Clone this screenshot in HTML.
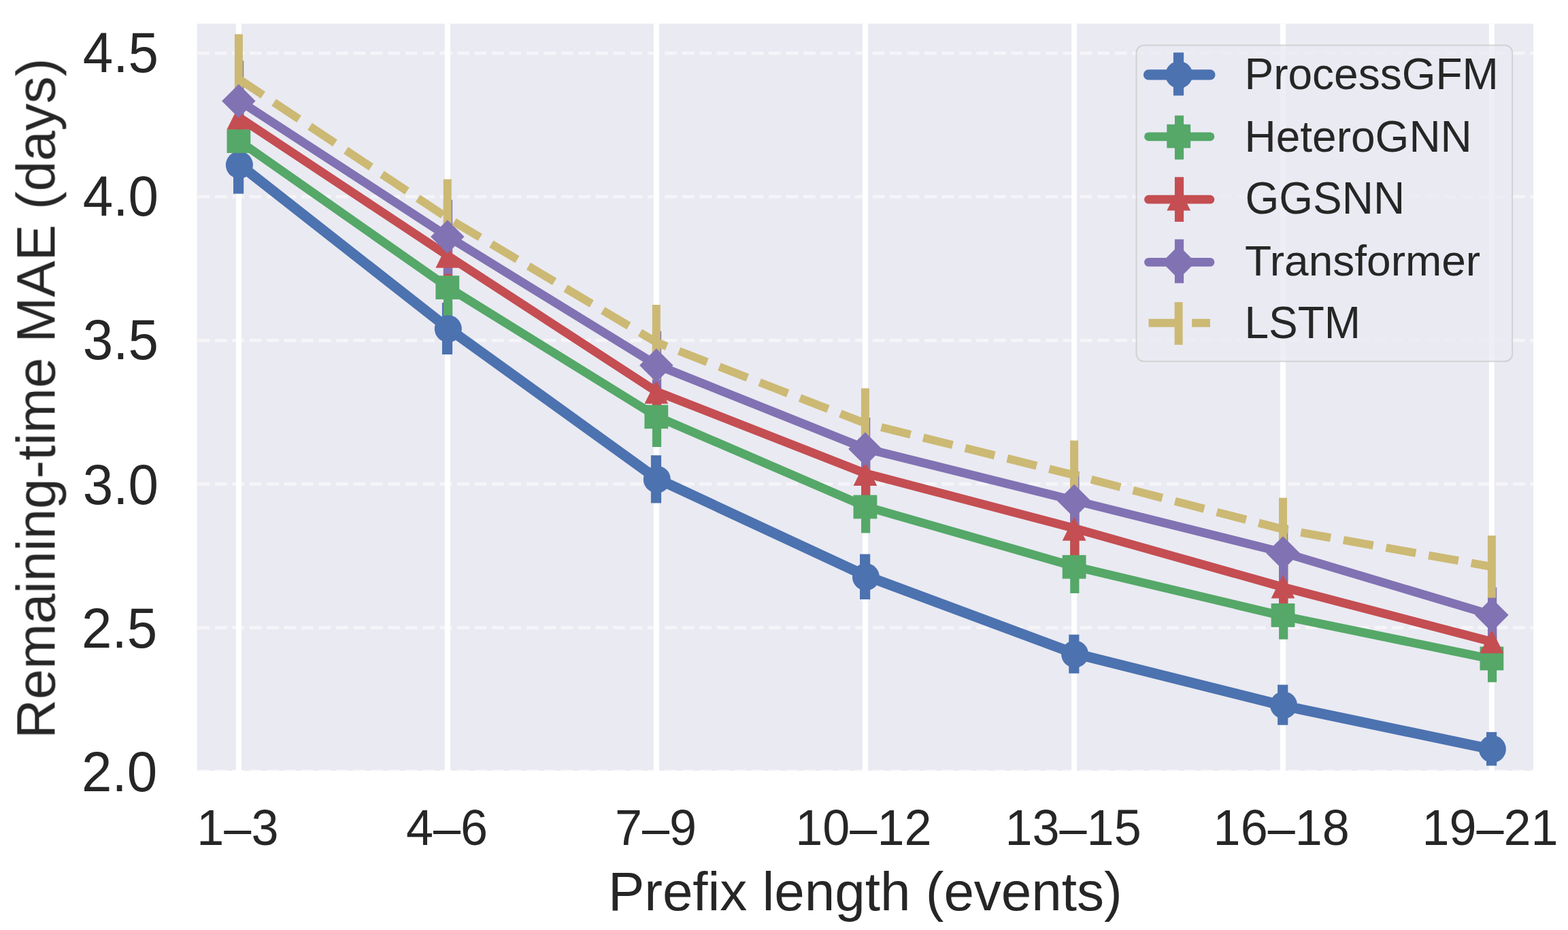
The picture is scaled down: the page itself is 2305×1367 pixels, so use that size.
<!DOCTYPE html>
<html lang="en"><head><meta charset="utf-8"><title>Remaining-time MAE by prefix length</title>
<style>html,body{margin:0;padding:0;background:#fff;}body{width:2305px;height:1367px;overflow:hidden;}svg{display:block;}text{font-family:"Liberation Sans",sans-serif;fill:#262626;}</style>
</head><body>
<svg width="2305" height="1367" viewBox="0 0 2305 1367">
<defs><filter id="soft" x="0" y="0" width="2305" height="1367" filterUnits="userSpaceOnUse" color-interpolation-filters="sRGB"><feGaussianBlur stdDeviation="0.6"/></filter><clipPath id="ax"><rect x="289.6" y="34.8" width="1964.4" height="1098.2"/></clipPath></defs>
<rect x="0" y="0" width="2305" height="1367" fill="#ffffff"/>
<g filter="url(#soft)">
<rect x="289.6" y="34.8" width="1964.4" height="1098.2" fill="#EAEAF2"/>
<g clip-path="url(#ax)">
<g stroke="#ffffff" stroke-width="8" fill="none">
<line x1="350.9" y1="34.8" x2="350.9" y2="1133"/>
<line x1="657.8" y1="34.8" x2="657.8" y2="1133"/>
<line x1="964.8" y1="34.8" x2="964.8" y2="1133"/>
<line x1="1271.9" y1="34.8" x2="1271.9" y2="1133"/>
<line x1="1579.1" y1="34.8" x2="1579.1" y2="1133"/>
<line x1="1886" y1="34.8" x2="1886" y2="1133"/>
<line x1="2192.9" y1="34.8" x2="2192.9" y2="1133"/>
</g>
<g stroke="#ffffff" stroke-opacity="0.52" stroke-width="4.8" stroke-dasharray="17.76 7.68" stroke-dashoffset="-0.9" fill="none">
<line x1="289.6" y1="78.1" x2="2254" y2="78.1"/>
<line x1="289.6" y1="289.2" x2="2254" y2="289.2"/>
<line x1="289.6" y1="500.4" x2="2254" y2="500.4"/>
<line x1="289.6" y1="711.4" x2="2254" y2="711.4"/>
<line x1="289.6" y1="922.6" x2="2254" y2="922.6"/>
<line x1="289.6" y1="1133.7" x2="2254" y2="1133.7"/>
</g>
<g stroke="#4C72B0" stroke-width="15.2" fill="none">
<line x1="350.6" y1="199.6" x2="350.6" y2="284.8"/>
<line x1="657.5" y1="444.9" x2="657.5" y2="521.1"/>
<line x1="964.5" y1="669.2" x2="964.5" y2="739.6"/>
<line x1="1271.6" y1="814.6" x2="1271.6" y2="881"/>
<line x1="1578.8" y1="932.8" x2="1578.8" y2="989.8"/>
<line x1="1885.7" y1="1006.5" x2="1885.7" y2="1065.7"/>
<line x1="2192.6" y1="1076.1" x2="2192.6" y2="1125.5"/>
</g>
<g stroke="#55A868" stroke-width="13.2" fill="none">
<line x1="351.6" y1="157.5" x2="351.6" y2="257.5"/>
<line x1="658.5" y1="374.4" x2="658.5" y2="470.8"/>
<line x1="965.5" y1="568.4" x2="965.5" y2="657"/>
<line x1="1272.6" y1="706.6" x2="1272.6" y2="783.6"/>
<line x1="1579.8" y1="794.6" x2="1579.8" y2="872"/>
<line x1="1886.7" y1="869.1" x2="1886.7" y2="939.7"/>
<line x1="2193.6" y1="933.1" x2="2193.6" y2="1002.7"/>
</g>
<g stroke="#C44E52" stroke-width="13.2" fill="none">
<line x1="351.6" y1="113.3" x2="351.6" y2="232.5"/>
<line x1="658.5" y1="324.3" x2="658.5" y2="428.3"/>
<line x1="965.5" y1="530.2" x2="965.5" y2="622.2"/>
<line x1="1272.6" y1="654.5" x2="1272.6" y2="738.5"/>
<line x1="1579.8" y1="737.8" x2="1579.8" y2="816.8"/>
<line x1="1886.7" y1="825.2" x2="1886.7" y2="899.2"/>
<line x1="2193.6" y1="908.8" x2="2193.6" y2="976.8"/>
</g>
<g stroke="#8172B3" stroke-width="13.2" fill="none">
<line x1="351.6" y1="89.2" x2="351.6" y2="207.8"/>
<line x1="658.5" y1="293.7" x2="658.5" y2="402.5"/>
<line x1="965.5" y1="486.7" x2="965.5" y2="587.5"/>
<line x1="1272.6" y1="614" x2="1272.6" y2="706"/>
<line x1="1579.8" y1="692.9" x2="1579.8" y2="779.9"/>
<line x1="1886.7" y1="771.9" x2="1886.7" y2="853.9"/>
<line x1="2193.6" y1="863.5" x2="2193.6" y2="944.7"/>
</g>
<g stroke="#CCB974" stroke-width="12" fill="none">
<line x1="350.9" y1="50.2" x2="350.9" y2="166"/>
<line x1="657.8" y1="263.4" x2="657.8" y2="365.3"/>
<line x1="964.8" y1="448" x2="964.8" y2="558.2"/>
<line x1="1271.9" y1="570.7" x2="1271.9" y2="672.2"/>
<line x1="1579.1" y1="647.5" x2="1579.1" y2="746.3"/>
<line x1="1886" y1="731.8" x2="1886" y2="821.8"/>
<line x1="2192.9" y1="787.2" x2="2192.9" y2="878.8"/>
</g>
<polyline points="350.9,241 657.8,481.8 964.8,703.2 1271.9,846 1579.1,960.3 1886,1037.1 2192.9,1101.4" fill="none" stroke="#4C72B0" stroke-width="15.2" stroke-linejoin="round" stroke-linecap="round"/>
<g>
<circle cx="351.9" cy="242.5" r="20" fill="#4C72B0"/>
<circle cx="658.8" cy="483.3" r="20" fill="#4C72B0"/>
<circle cx="965.8" cy="704.7" r="20" fill="#4C72B0"/>
<circle cx="1272.9" cy="848.1" r="20" fill="#4C72B0"/>
<circle cx="1580.1" cy="961.6" r="20" fill="#4C72B0"/>
<circle cx="1887" cy="1036.4" r="20" fill="#4C72B0"/>
<circle cx="2193.9" cy="1101.1" r="20" fill="#4C72B0"/>
</g>
<polyline points="350.9,206.7 657.8,421.8 964.8,611.9 1271.9,744.3 1579.1,832.5 1886,905.4 2192.9,968.7" fill="none" stroke="#55A868" stroke-width="12.8" stroke-linejoin="round" stroke-linecap="round"/>
<g>
<rect x="333.5" y="190.1" width="34.8" height="34.8" fill="#55A868"/>
<rect x="640.4" y="405.2" width="34.8" height="34.8" fill="#55A868"/>
<rect x="947.4" y="595.3" width="34.8" height="34.8" fill="#55A868"/>
<rect x="1254.5" y="727.7" width="34.8" height="34.8" fill="#55A868"/>
<rect x="1561.7" y="815.9" width="34.8" height="34.8" fill="#55A868"/>
<rect x="1868.6" y="887" width="34.8" height="34.8" fill="#55A868"/>
<rect x="2175.5" y="950.5" width="34.8" height="34.8" fill="#55A868"/>
</g>
<polyline points="350.9,172.1 657.8,375.5 964.8,575.4 1271.9,695.7 1579.1,776.5 1886,863 2192.9,943.3" fill="none" stroke="#C44E52" stroke-width="12.8" stroke-linejoin="round" stroke-linecap="round"/>
<g>
<polygon points="350.9,155.5 333.5,190.3 368.3,190.3" fill="#C44E52"/>
<polygon points="657.8,358.9 640.4,393.7 675.2,393.7" fill="#C44E52"/>
<polygon points="964.8,558.8 947.4,593.6 982.2,593.6" fill="#C44E52"/>
<polygon points="1271.9,679.1 1254.5,713.9 1289.3,713.9" fill="#C44E52"/>
<polygon points="1579.1,759.9 1561.7,794.7 1596.5,794.7" fill="#C44E52"/>
<polygon points="1886,844.8 1868.6,879.6 1903.4,879.6" fill="#C44E52"/>
<polygon points="2192.9,925.4 2175.5,960.2 2210.3,960.2" fill="#C44E52"/>
</g>
<polyline points="350.9,147.7 657.8,347.3 964.8,536.3 1271.9,659.2 1579.1,735.6 1886,812.1 2192.9,903.9" fill="none" stroke="#8172B3" stroke-width="12.8" stroke-linejoin="round" stroke-linecap="round"/>
<g>
<polygon points="350.9,123.75 375.65,148.5 350.9,173.25 326.15,148.5" fill="#8172B3"/>
<polygon points="657.8,323.35 682.55,348.1 657.8,372.85 633.05,348.1" fill="#8172B3"/>
<polygon points="964.8,512.35 989.55,537.1 964.8,561.85 940.05,537.1" fill="#8172B3"/>
<polygon points="1271.9,635.25 1296.65,660 1271.9,684.75 1247.15,660" fill="#8172B3"/>
<polygon points="1579.1,711.65 1603.85,736.4 1579.1,761.15 1554.35,736.4" fill="#8172B3"/>
<polygon points="1886,788.15 1910.75,812.9 1886,837.65 1861.25,812.9" fill="#8172B3"/>
<polygon points="2192.9,879.35 2217.65,904.1 2192.9,928.85 2168.15,904.1" fill="#8172B3"/>
</g>
<polyline points="350.9,116 657.8,320.3 964.8,503.1 1271.9,622.2 1579.1,698.3 1886,777.9 2192.9,833" fill="none" stroke="#CCB974" stroke-width="12" stroke-dasharray="44.4 19.2" stroke-dashoffset="1.5" stroke-linejoin="round" stroke-linecap="butt"/>
</g>
<g>
<rect x="1670.5" y="66.6" width="552.7" height="464.6" rx="11" ry="11" fill="#EAEAF2" fill-opacity="0.8" stroke="#CCCCCC" stroke-opacity="0.8" stroke-width="2"/>
<line x1="1732.5" y1="77.3" x2="1732.5" y2="140.6" stroke="#4C72B0" stroke-width="15.2"/>
<line x1="1688.5" y1="109.9" x2="1778.9" y2="109.9" stroke="#4C72B0" stroke-width="15.2" stroke-linecap="round"/>
<circle cx="1733.2" cy="109.9" r="20" fill="#4C72B0"/>
<text transform="translate(1829.5,130.6)" font-size="64" text-anchor="start">ProcessGFM</text>
<line x1="1733.5" y1="169.8" x2="1733.5" y2="234.6" stroke="#55A868" stroke-width="13.2"/>
<line x1="1688.5" y1="200.8" x2="1778.9" y2="200.8" stroke="#55A868" stroke-width="12.8" stroke-linecap="round"/>
<rect x="1715.3" y="182.8" width="34.8" height="34.8" fill="#55A868"/>
<text transform="translate(1829.5,222.6)" font-size="64" text-anchor="start">HeteroGNN</text>
<line x1="1733.5" y1="260.3" x2="1733.5" y2="326.1" stroke="#C44E52" stroke-width="13.2"/>
<line x1="1688.5" y1="293.2" x2="1778.9" y2="293.2" stroke="#C44E52" stroke-width="12.8" stroke-linecap="round"/>
<polygon points="1732.7,274.7 1715.3,309.5 1750.1,309.5" fill="#C44E52"/>
<text transform="translate(1830.5,314.1) scale(1,1.0270)" font-size="64" text-anchor="start">GGSNN</text>
<line x1="1733.5" y1="351.8" x2="1733.5" y2="416.2" stroke="#8172B3" stroke-width="13.2"/>
<line x1="1688.5" y1="385.4" x2="1778.9" y2="385.4" stroke="#8172B3" stroke-width="12.8" stroke-linecap="round"/>
<polygon points="1732.7,360.65 1757.45,385.4 1732.7,410.15 1707.95,385.4" fill="#8172B3"/>
<text transform="translate(1830.1,405.4) scale(1,0.9900)" font-size="64" text-anchor="start">Transformer</text>
<line x1="1732.6" y1="444.1" x2="1732.6" y2="506.8" stroke="#CCB974" stroke-width="12"/>
<line x1="1688.5" y1="474.8" x2="1778.9" y2="474.8" stroke="#CCB974" stroke-width="12" stroke-dasharray="44.4 19.2"/>
<text transform="translate(1829.5,497.2) scale(1,1.0270)" font-size="64" text-anchor="start">LSTM</text>
</g>
<g>
<text transform="translate(233,105.9) scale(1,1.0405)" font-size="80" text-anchor="end">4.5</text>
<text transform="translate(233,317) scale(1,1.0405)" font-size="80" text-anchor="end">4.0</text>
<text transform="translate(233,528) scale(1,1.0405)" font-size="80" text-anchor="end">3.5</text>
<text transform="translate(233,741) scale(1,1.0405)" font-size="80" text-anchor="end">3.0</text>
<text transform="translate(231.3,952.5) scale(1,1.0405)" font-size="80" text-anchor="end">2.5</text>
<text transform="translate(231.3,1163.4) scale(1,1.0405)" font-size="80" text-anchor="end">2.0</text>
</g>
<g>
<text transform="translate(349.4,1241.6) scale(1,1.0405)" font-size="72" text-anchor="middle">1–3</text>
<text transform="translate(657,1241.6) scale(1,1.0405)" font-size="72" text-anchor="middle">4–6</text>
<text transform="translate(964,1241.6) scale(1,1.0405)" font-size="72" text-anchor="middle">7–9</text>
<text transform="translate(1269.4,1241.6) scale(1,1.0405)" font-size="72" text-anchor="middle">10–12</text>
<text transform="translate(1577.6,1241.6) scale(1,1.0405)" font-size="72" text-anchor="middle">13–15</text>
<text transform="translate(1883.7,1241.6) scale(1,1.0405)" font-size="72" text-anchor="middle">16–18</text>
<text transform="translate(2190.5,1241.6) scale(1,1.0405)" font-size="72" text-anchor="middle">19–21</text>
</g>
<text transform="translate(1271.8,1337.6) scale(1,0.9850)" font-size="80" text-anchor="middle">Prefix length (events)</text>
<text transform="translate(80.3,585.7) rotate(-90) scale(1,0.9850)" font-size="80" text-anchor="middle">Remaining-time MAE (days)</text>
</g>
</svg>
</body></html>
